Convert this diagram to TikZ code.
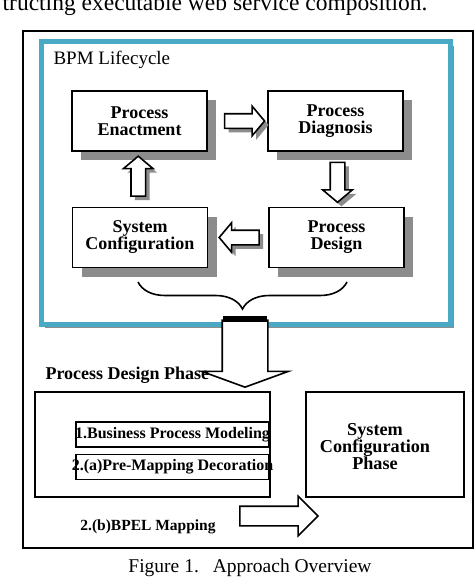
\documentclass[tikz,border=0pt]{standalone}
\usepackage{fontspec}
\setmainfont{Liberation Serif}
\usetikzlibrary{calc,shapes.arrows,shadows,decorations.pathreplacing}
\definecolor{bpmteal}{RGB}{74,169,196}

\begin{document}
\begin{tikzpicture}[x=1pt,y=-1pt,
  stage/.style={draw,line width=1.6pt,fill=white,align=center,inner sep=0pt,
    minimum width=135pt,minimum height=60pt,
    font=\fontsize{18}{17}\selectfont\bfseries,
    drop shadow={shadow xshift=9pt,shadow yshift=-9pt,fill=black!45,opacity=1}},
  step arrow/.style={single arrow,draw,line width=1.6pt,fill=white,inner sep=6.5pt,
    minimum height=40pt,single arrow head extend=7.5pt,
    single arrow tip angle=100,
    drop shadow={shadow xshift=4pt,shadow yshift=-4pt,fill=black!45,opacity=1}},
  phase/.style={draw,line width=1.6pt,fill=white,align=center,inner sep=0pt},
  step box/.style={draw,line width=1.6pt,fill=white,inner sep=0pt,
    minimum width=193pt,minimum height=25pt,font=\fontsize{16}{16}\selectfont\bfseries}]
\useasboundingbox (0,0) rectangle (474,578);

\node[anchor=base east,font=\fontsize{23.5}{23.5}\selectfont] (head) at (431,11) {tructing executable web service composition.};

% outer frame and lifecycle frame
\node[draw,line width=1.6pt,minimum width=450pt,minimum height=517pt] (outer) at (248,289.5) {};
\node[draw=bpmteal,fill=white,line width=5pt,minimum width=409pt,minimum height=282pt,
  drop shadow={shadow xshift=4pt,shadow yshift=-4pt,fill=black!45,opacity=1}] (bpm) at (245.5,183) {};
\node[anchor=west,font=\fontsize{19}{19}\selectfont] (bpmlabel) at (50,60) {BPM Lifecycle};

% lifecycle
\node[stage] (enact) at (139.5,121) {Process\\Enactment};
\node[stage] (diag) at (335.5,121) {Process\\Diagnosis};
\node[stage] (sysconf) at (140,237.5) {System\\Configuration};
\node[stage] (design) at (336.5,237.5) {Process\\Design};

\node[step arrow] (a1) at ($(enact.east)!0.5!(diag.west)+(4,0)$) {};
\node[step arrow,shape border rotate=270] (a2) at ($(diag.south)!0.5!(design.north)+(1.5,0)$) {};
\node[step arrow,shape border rotate=180] (a3) at ($(design.west)!0.5!(sysconf.east)+(4,0)$) {};
\node[step arrow,shape border rotate=90] (a4) at ($(sysconf.north)!0.5!(enact.south)+(-1.5,0)$) {};

\coordinate (braceR) at (347,282);
\coordinate (braceL) at (138,282);
\draw[decorate,decoration={brace,amplitude=27pt},line width=1.6pt] (braceR) -- (braceL);

% down to the phases
\node[single arrow,draw,line width=1.6pt,fill=white,inner sep=22pt,shape border rotate=270,
  minimum height=67pt,single arrow head extend=20.5pt,
  single arrow tip angle=140] (down) at (245,349.5) {};
\fill (223,316) rectangle (267,322);

\node[anchor=west,font=\fontsize{18}{18}\selectfont\bfseries] (pdplabel) at (42,375) {Process Design Phase};
\node[phase,minimum width=235pt,minimum height=105pt] (pdp) at (152.5,444.5) {};
\node[step box] (model) at (172.5,434.5) {\makebox[0pt]{1.Business Process Modeling}};
\node[step box] (decor) at (172.5,467) {\makebox[0pt]{2.(a)Pre-Mapping Decoration}};

\node[phase,minimum width=158pt,minimum height=105pt,
  label={[align=center,font=\fontsize{18.2}{16.7}\selectfont\bfseries,xshift=-10pt,yshift=-2pt]center:System\\Configuration\\Phase}] (scp) at (385,444.5) {};

\node[single arrow,draw,line width=1.6pt,fill=white,inner sep=9pt,
  minimum height=78pt,single arrow head extend=10pt] (map) at (274,516) {};
\node[font=\fontsize{15.5}{15.5}\selectfont\bfseries] (bpel) at (148,527) {2.(b)BPEL Mapping};

\node[font=\fontsize{19.5}{19.5}\selectfont] (caption) at (250,568) {Figure 1.\hspace{14pt}Approach Overview};
\end{tikzpicture}
\end{document}
